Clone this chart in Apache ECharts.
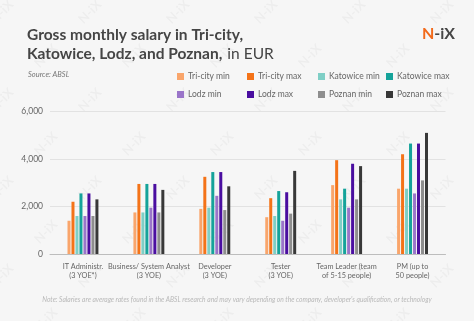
<!DOCTYPE html>
<html>
<head>
<meta charset="utf-8">
<script src="https://cdn.jsdelivr.net/npm/echarts@6/dist/echarts.min.js"></script>
<style>
  html, body { margin: 0; padding: 0; background: #f6f6f6; }
  #chart { width: 474px; height: 321px; }
</style>
</head>
<body>
<div id="chart"></div>
<script>
// Job roles along the x axis
const roles = [
  'IT Administr.\n(3 YOE*)',
  'Business/ System Analyst\n(3 YOE)',
  'Developer\n(3 YOE)',
  'Tester\n(3 YOE)',
  'Team Leader (team\nof 5-15 people)',
  'PM (up to\n50 people)'
];

// Gross monthly salary, EUR
const tricityMin  = [1400, 1750, 1900, 1550, 2900, 2750];
const tricityMax  = [2200, 2950, 3250, 2350, 3950, 4200];
const katowiceMin = [1600, 1750, 1950, 1600, 2300, 2750];
const katowiceMax = [2550, 2950, 3450, 2650, 2750, 4650];
const lodzMin     = [1600, 1950, 2450, 1400, 1950, 2550];
const lodzMax     = [2550, 2950, 3450, 2600, 3800, 4650];
const poznanMin   = [1600, 1750, 1850, 1700, 2300, 3100];
const poznanMax   = [2300, 2700, 2850, 3500, 3700, 5100];

const yTicks = [0, 2000, 4000, 6000];

const seriesDefs = [
  { name: 'Tri-city min',  data: tricityMin,  color: '#f9a56b' },
  { name: 'Tri-city max',  data: tricityMax,  color: '#f47318' },
  { name: 'Katowice min',  data: katowiceMin, color: '#7fcfc6' },
  { name: 'Katowice max',  data: katowiceMax, color: '#15a39a' },
  { name: 'Lodz min',      data: lodzMin,     color: '#9a75c9' },
  { name: 'Lodz max',      data: lodzMax,     color: '#4a0ea0' },
  { name: 'Poznan min',    data: poznanMin,   color: '#8e8e8e' },
  { name: 'Poznan max',    data: poznanMax,   color: '#383838' }
];

const FONT = 'Lato, "Open Sans", sans-serif';

// Faint diagonal brand watermark tiled over the background
const watermarks = [];
for (let row = 0; row < 8; row++) {
  for (let col = 0; col < 7; col++) {
    watermarks.push({
      type: 'text',
      x: col * 88 + (row % 2 ? 44 : 0) + 2,
      y: row * 44 + 12,
      rotation: Math.PI / 4,
      silent: true,
      z: -1,
      style: {
        text: 'N-iX',
        fill: 'rgba(0,0,0,0.035)',
        font: 'bold 13px ' + FONT,
        textAlign: 'center',
        textVerticalAlign: 'middle'
      }
    });
  }
}

// Legend laid out as a 4 x 2 table, one legend component per cell
const legendCols = [177, 247, 318, 386];
const legendRows = [72, 90];
const legends = seriesDefs.map((s, i) => ({
  left: legendCols[i % 4],
  top: legendRows[Math.floor(i / 4)],
  data: [s.name],
  itemWidth: 7,
  itemHeight: 7,
  icon: 'rect',
  padding: 0,
  textStyle: { fontFamily: FONT, fontSize: 8.5, color: '#666', padding: [0, 0, 0, -1] }
}));

const chart = echarts.init(document.getElementById('chart'), null, { renderer: 'canvas' });
chart.setOption({
  backgroundColor: '#f6f6f6',
  animation: false,
  title: [
    {
      left: 22,
      top: 20,
      text: '{b|Gross monthly salary in Tri-city,}\n{b|Katowice, Lodz, and Poznan,} {n|in EUR}',
      textStyle: {
        rich: {
          b: { fontFamily: FONT, fontSize: 15.5, fontWeight: 'bold', color: '#454545', lineHeight: 19 },
          n: { fontFamily: FONT, fontSize: 15.5, fontWeight: 'normal', color: '#454545', lineHeight: 19 }
        }
      }
    },
    {
      left: 417,
      top: 21,
      text: '{o|N}{d|-iX}',
      textStyle: {
        rich: {
          o: { fontFamily: FONT, fontSize: 16, fontWeight: 'bold', color: '#f26a1b' },
          d: { fontFamily: FONT, fontSize: 16, fontWeight: 'bold', color: '#474747' }
        }
      }
    },
    {
      left: 23,
      top: 66,
      text: 'Source: ABSL',
      textStyle: { fontFamily: FONT, fontSize: 7.5, fontStyle: 'italic', fontWeight: 'normal', color: '#777' }
    },
    {
      left: 'center',
      top: 291,
      text: "Note: Salaries are average rates found in the ABSL research and may vary depending on the company, developer's qualification, or technology",
      textStyle: { fontFamily: FONT, fontSize: 6.7, fontStyle: 'italic', fontWeight: 'normal', color: '#b8b8b8' }
    }
  ],
  legend: legends,
  grid: { left: 50, right: 28.5, top: 111.5, bottom: 67 },
  xAxis: {
    type: 'category',
    data: roles,
    axisTick: { show: false },
    axisLine: { lineStyle: { color: '#bdbdbd', width: 1 } },
    axisLabel: {
      interval: 0,
      margin: 8,
      fontFamily: FONT,
      fontSize: 7.3,
      lineHeight: 9,
      color: '#666'
    }
  },
  yAxis: {
    type: 'value',
    min: yTicks[0],
    max: yTicks[yTicks.length - 1],
    interval: yTicks[1] - yTicks[0],
    axisLine: { show: false },
    axisTick: { show: false },
    splitLine: { lineStyle: { color: '#e2e2e2', width: 1 } },
    axisLabel: {
      margin: 7,
      fontFamily: FONT,
      fontSize: 8.5,
      color: '#666',
      formatter: v => v.toLocaleString('en-US')
    }
  },
  series: seriesDefs.map(s => ({
    name: s.name,
    type: 'bar',
    data: s.data,
    barWidth: 3,
    barGap: '33%',
    itemStyle: { color: s.color },
    emphasis: { disabled: true }
  })),
  graphic: watermarks
});
</script>
</body>
</html>
